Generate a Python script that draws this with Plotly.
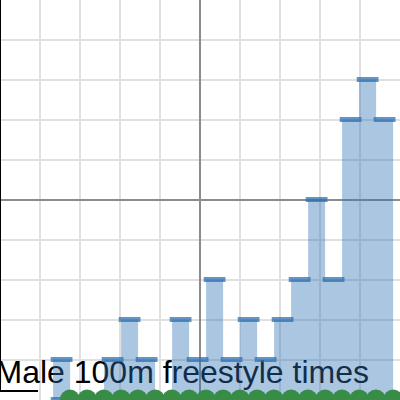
import plotly.graph_objects as go

# histogram counts per bin (left to right)
counts = [1, 0, 0, 1, 2, 1, 0, 2, 1, 3, 1, 2, 1, 2, 3, 5, 3, 7, 8, 7]
bin_start = -3.66
bin_width = 0.425
base = -5

# green points along the bottom
dot_x = [-3.24, -2.81, -2.39, -1.96, -1.54, -1.11, -0.69, -0.26, 0.16, 0.59,
         1.01, 1.44, 1.86, 2.29, 2.71, 3.14, 3.56, 3.99, 4.41, 4.84]
dot_y = [-5] * len(dot_x)

title = "Male 100m freestyle times"

blue = "45,112,179"
edges = [bin_start + i * bin_width for i in range(len(counts) + 1)]

# filled step outline of the histogram
fx, fy = [edges[0]], [base]
for i, c in enumerate(counts):
    fx += [edges[i], edges[i + 1]]
    fy += [base + c, base + c]
fx.append(edges[-1])
fy.append(base)

# thick bar tops (plus the base line)
pad = 0.06
tx, ty = [edges[0] - pad, edges[-1] + pad, None], [base, base, None]
for i, c in enumerate(counts):
    tx += [edges[i] - pad, edges[i + 1] + pad, None]
    ty += [base + c, base + c, None]

fig = go.Figure()

fig.add_trace(go.Scatter(
    x=[-5.1], y=[-4.38], mode="text", text=[title],
    textposition="middle right",
    textfont=dict(family="Liberation Sans, Arial", size=32, color="black"),
    hoverinfo="skip"))

fig.add_trace(go.Scatter(
    x=fx, y=fy, mode="lines", fill="toself",
    fillcolor="rgba(%s,0.4)" % blue, line=dict(width=0)))

fig.add_trace(go.Scatter(
    x=tx, y=ty, mode="lines",
    line=dict(color="rgba(%s,0.75)" % blue, width=5)))

fig.add_trace(go.Scatter(
    x=dot_x, y=dot_y, mode="markers",
    marker=dict(size=20, color="#388c46", line=dict(width=0))))

fig.update_layout(
    width=400, height=400, autosize=False,
    margin=dict(l=0, r=0, t=0, b=0),
    showlegend=False,
    paper_bgcolor="white", plot_bgcolor="white",
    xaxis=dict(range=[-4.9875, 5.0125], dtick=1, tick0=0,
               showticklabels=False, ticks="",
               gridcolor="#e0e0e0", gridwidth=2,
               zeroline=True, zerolinecolor="#8c8c8c", zerolinewidth=2),
    yaxis=dict(range=[-5.0125, 4.9875], dtick=1, tick0=0,
               showticklabels=False, ticks="",
               gridcolor="#e0e0e0", gridwidth=2,
               zeroline=True, zerolinecolor="#8c8c8c", zerolinewidth=2),
    shapes=[
        dict(type="rect", xref="paper", yref="paper", layer="between",
             x0=0, x1=0.93, y0=0.025, y1=0.1,
             fillcolor="white", line=dict(width=0)),
        dict(type="line", xref="paper", yref="paper",
             x0=0, x1=0, y0=0.0225, y1=1, line=dict(color="black", width=2)),
        dict(type="line", xref="paper", yref="paper",
             x0=0, x1=0.095, y0=0.0225, y1=0.0225,
             line=dict(color="black", width=2)),
    ],
)

fig.write_html("out.html", config={"displayModeBar": False},
               post_script="document.body.style.margin='0';")
